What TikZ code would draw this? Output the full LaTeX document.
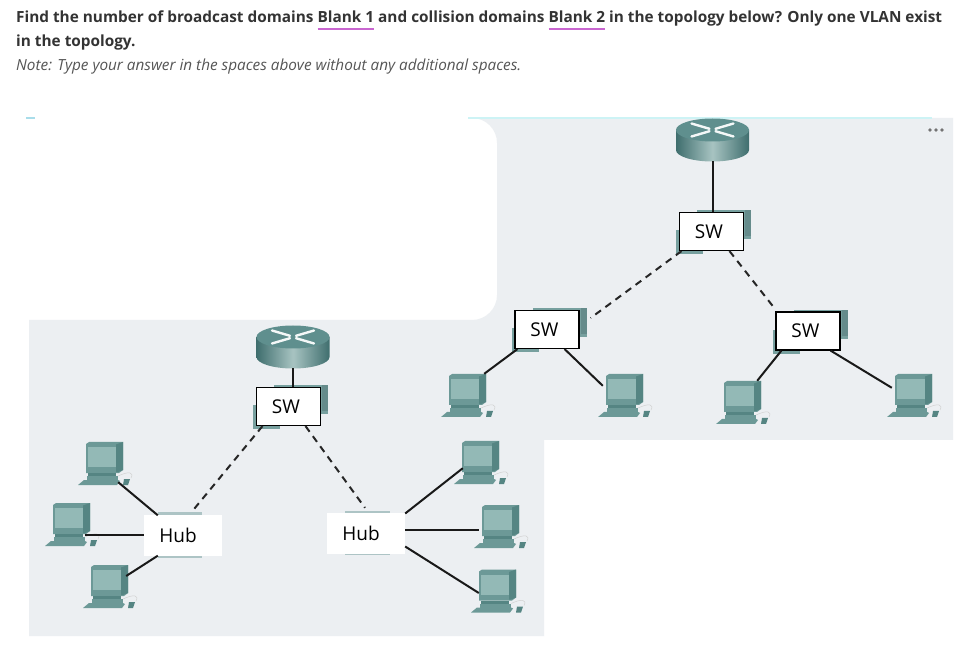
\documentclass[tikz,border=0pt]{standalone}
\usepackage{fontspec}
\setmainfont{Open Sans}
\definecolor{panel}{HTML}{ECEFF2}
\definecolor{tealA}{HTML}{5F8F8E}
\definecolor{tealB}{HTML}{6C9997}
\definecolor{tealC}{HTML}{93B9B6}
\definecolor{tealD}{HTML}{3F6E6E}
\definecolor{tealE}{HTML}{CFE0DE}
\definecolor{tealF}{HTML}{558583}
\definecolor{cyanline}{HTML}{CDF3F5}
\definecolor{tickc}{HTML}{A9DDEA}
\definecolor{blankc}{HTML}{C966D0}
\definecolor{titlec}{HTML}{333333}
\definecolor{notec}{HTML}{555555}
\newcommand{\blankword}[1]{\setbox0\hbox{#1}\rlap{\textcolor{blankc}{\vrule width\wd0 height -4.6pt depth 6.6pt}}#1}
\newcommand{\swtext}{\raisebox{-4pt}{SW}\hspace*{5pt}}
\newcommand{\hubtext}{\raisebox{-4pt}{Hub}\hspace*{10pt}}
\tikzset{
  title/.style={anchor=base west,inner sep=0,text=titlec,font=\fontsize{15.35}{17}\selectfont\bfseries},
  note/.style={anchor=base west,inner sep=0,text=notec,font=\fontsize{15.3}{17}\selectfont\itshape},
  link/.style={line width=2pt,black!90},
  dashlink/.style={line width=2pt,black!85,dash pattern=on 7pt off 5.5pt},
  swbox/.style={draw=black,line width=1.2pt,fill=white,minimum width=64pt,minimum height=38pt,inner sep=0,text=black,font=\fontsize{19}{21}\selectfont},
  hubbox/.style={fill=white,minimum width=78pt,minimum height=41pt,inner sep=0,text=black,font=\fontsize{19}{21}\selectfont},
  pcanchor/.style={minimum width=38pt,minimum height=40pt,inner sep=0},
  routeranchor/.style={minimum width=72pt,minimum height=42pt,inner sep=0},
}
% PC icon: #1 name, (#2,#3) top left corner of the monitor
\newcommand{\pcicon}[3]{%
  \begin{scope}[shift={(#2,#3)}]
    \fill[tealB] (1,2) -- (4,0) -- (38,0) -- (38,28) -- (34,31) -- (1,31) -- cycle;
    \fill[tealC] (3,5) -- (31,5) -- (31,25) -- (3,25) -- cycle;
    \fill[tealF] (31,2.5) -- (38,0) -- (38,28) -- (33,30) -- (31,30) -- cycle;
    \fill[tealF] (3,31) -- (31,31) -- (31,34) -- (3,34) -- cycle;
    \fill[tealB] (2,34) -- (33,34) -- (33,38) -- (2,38) -- cycle;
    \fill[tealB] (-1,38) -- (33,38) -- (35,39) -- (32,43) -- (-7,43) -- cycle;
    \fill[tealF] (39,37) -- (45,37) -- (43,43) -- (38,43) -- cycle;
    \draw[black!18,line width=.5pt] (33,34) .. controls (44,29) and (49,30) .. (46,36);
    \node[pcanchor] (#1) at (17,20) {};
  \end{scope}}
% Router icon: #1 name, (#2,#3) centre of the top ellipse
\newcommand{\routericon}[3]{%
  \begin{scope}[shift={(#2,#3)}]
    \shade[left color=tealD,right color=tealD,middle color=tealE!60!tealB]
      (-36.5,0) -- (-36.5,20) arc[start angle=180,end angle=0,x radius=36.5,y radius=11.5] -- (36.5,0) -- cycle;
    \fill[tealA] (0,0) ellipse[x radius=36.5,y radius=11.5];
    \draw[white!90!tealC,line width=2.4pt,line cap=round] (-21,-6.5) -- (-3,-1.2) (3,1.2) -- (21,6.5);
    \draw[white!90!tealC,line width=2.4pt,line cap=round] (-21,6.5) -- (-3,1.2) (3,-1.2) -- (21,-6.5);
    \node[routeranchor] (#1) at (0,10) {};
  \end{scope}}
% Teal silhouette of the switch behind a label box; (#1,#2) box top left corner
\newcommand{\swshadow}[2]{%
  \begin{scope}[shift={(#1,#2)}]
    \fill[tealA!85!white] (18,-2) rectangle (72,27);
    \fill[tealD!80!white] (66,-2) rectangle (72,24);
    \fill[tealA!85!white] (-3,18) rectangle (24,42);
  \end{scope}}
\begin{document}
\begin{tikzpicture}[x=1pt,y=-1pt]
\useasboundingbox (0,0) rectangle (978,660);
\fill[white] (0,0) rectangle (978,660);
% panel
\fill[panel] (29,320) -- (472,320) arc[start angle=90,end angle=0,radius=25]
  -- (497,143) arc[start angle=0,end angle=-90,radius=25] -- (953,118) -- (953,440) -- (544,440) -- (544,636) -- (29,636) -- cycle;
\draw[cyanline,line width=1.2pt] (468,118) -- (932,118);
\draw[tickc,line width=1.2pt] (26,118) -- (35,118);
\fill[black!55] (930,130) circle[radius=1.8] (936,130) circle[radius=1.8] (942,130) circle[radius=1.8];
% text
\node[title] (t1) at (16,23) {Find the number of broadcast domains \blankword{Blank 1} and collision domains \blankword{Blank 2} in the topology below? Only one VLAN exist};
\node[title] (t2) at (16,47) {in the topology.};
\node[note] (t3) at (16,71) {Note: Type your answer in the spaces above without any additional spaces.};
% device silhouettes
\swshadow{679}{212}
\swshadow{515}{310}
\swshadow{776}{312}
\swshadow{256}{387}
\fill[tealA!45!panel] (158,512) rectangle (202,558);
\fill[tealA!45!panel] (345,511) rectangle (390,555);
% routers and PCs
\routericon{R1}{712.5}{130}
\routericon{R2}{293}{337}
\pcicon{P1}{85}{442}
\pcicon{P2}{52}{503}
\pcicon{P3}{90}{565}
\pcicon{P4}{461}{441}
\pcicon{P5}{481}{505}
\pcicon{P6}{478}{569.5}
\pcicon{P7}{448}{374}
\pcicon{P8}{605}{374}
\pcicon{P9}{723}{381}
\pcicon{P10}{894}{374}
% labels
\node[swbox] (S1) at (711.5,231.5) {\swtext};
\node[swbox] (S2) at (547,329.5) {\swtext};
\node[swbox] (S3) at (808,331) {\swtext};
\node[swbox] (S4) at (288.5,406.5) {\swtext};
\node[hubbox] (H1) at (183,535) {\hubtext};
\node[hubbox] (H2) at (366,533.5) {\hubtext};
% helper points on the device outlines
\coordinate (S1a) at ([xshift=-30pt]S1.south);
\coordinate (S1b) at ([xshift=18pt]S1.south);
\coordinate (S2d) at ([xshift=11pt,yshift=11.5pt]S2.east);
\coordinate (S4a) at ([xshift=-26pt]S4.south);
\coordinate (S4b) at ([xshift=17pt]S4.south);
\coordinate (H1d) at ([xshift=10pt,yshift=4pt]H1.north);
\coordinate (H2d) at ([xshift=-1pt,yshift=5pt]H2.north);
\coordinate (S3d) at ([yshift=2pt]S3.north west);
\coordinate (H2m) at ([yshift=4pt]H2.east);
% connectors
\draw[link] (R1.south) -- (R1.south |- S1.north);
\draw[link] (R2.south) -- (R2.south |- S4.north);
\draw[dashlink] (S1a) -- (S2d);
\draw[dashlink] (S1b) -- (S3d);
\draw[dashlink] (S4a) -- (H1d);
\draw[dashlink] (S4b) -- (H2d);
\draw[link] ([xshift=3pt]S2.south west) -- (P7.north east);
\draw[link] ([xshift=-15pt]S2.south east) -- ([yshift=-12pt]P8.north west);
\draw[link] ([xshift=6pt]S3.south west) -- ([xshift=-2pt]P9.north east);
\draw[link] ([xshift=-10pt]S3.south east) -- ([yshift=-14pt]P10.north west);
\draw[link] ([xshift=14pt,yshift=-1pt]H1.north west) -- ([xshift=-3pt]P1.south east);
\draw[link] (H1.west) -- ([xshift=-3pt]H1.west -| P2.east);
\draw[link] ([xshift=14pt]H1.south west) -- ([yshift=9pt]P3.east);
\draw[link] ([yshift=20pt]H2.east) -- ([xshift=4pt,yshift=13pt]P4.south west);
\draw[link] (H2m) -- (H2m -| P5.west);
\draw[link] ([yshift=-13pt]H2.east) -- ([xshift=3pt,yshift=-3.5pt]P6.west);
\end{tikzpicture}
\end{document}
